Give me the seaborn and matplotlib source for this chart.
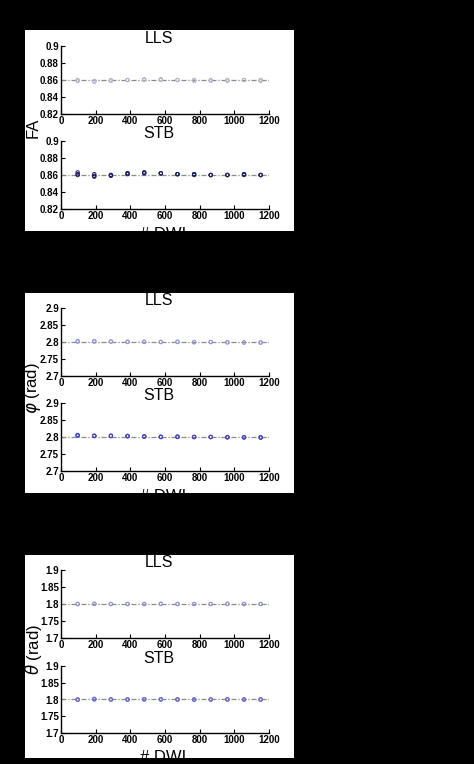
import numpy as np
import pandas as pd
import matplotlib
matplotlib.use("Agg")
import matplotlib.pyplot as plt
import seaborn as sns
from matplotlib.patches import Rectangle
from matplotlib.transforms import Bbox, TransformedBbox

# ---------------- data ----------------
n_dwi = [96, 192, 288, 384, 480, 576, 672, 768, 864, 960, 1056, 1152]

fa_true = 0.86
fa_lls = [[0.860, 0.859], [0.859, 0.858], [0.860, 0.859], [0.860, 0.860], [0.861, 0.860],
          [0.861, 0.860], [0.860, 0.860], [0.860, 0.859], [0.860, 0.859], [0.860, 0.859],
          [0.860, 0.860], [0.860, 0.859]]
fa_stb = [[0.863, 0.861, 0.860], [0.861, 0.859, 0.858], [0.860, 0.859, 0.860], [0.862, 0.861, 0.862],
          [0.863, 0.862, 0.863], [0.862, 0.862, 0.862], [0.861, 0.861, 0.861], [0.861, 0.860, 0.861],
          [0.860, 0.860, 0.860], [0.860, 0.860, 0.860], [0.861, 0.860, 0.861], [0.860, 0.860, 0.860]]

phi_true = 2.8
phi_lls = [[2.803, 2.801], [2.803, 2.801], [2.802, 2.801], [2.801, 2.800], [2.801, 2.800],
           [2.800, 2.800], [2.801, 2.800], [2.800, 2.799], [2.800, 2.800], [2.799, 2.799],
           [2.799, 2.798], [2.799, 2.798]]
phi_stb = [[2.806, 2.804, 2.805], [2.804, 2.803, 2.803], [2.804, 2.803, 2.803], [2.803, 2.802, 2.803],
           [2.802, 2.801, 2.802], [2.801, 2.800, 2.800], [2.801, 2.800, 2.801], [2.800, 2.800, 2.800],
           [2.800, 2.800, 2.800], [2.800, 2.799, 2.799], [2.799, 2.799, 2.799], [2.799, 2.798, 2.799]]

theta_true = 1.8
theta_lls = [[1.800, 1.800], [1.801, 1.800], [1.800, 1.800], [1.800, 1.800], [1.800, 1.800],
             [1.801, 1.800], [1.800, 1.800], [1.800, 1.800], [1.800, 1.800], [1.801, 1.800],
             [1.800, 1.800], [1.800, 1.800]]
theta_stb = [[1.800, 1.799, 1.800], [1.802, 1.801, 1.800], [1.800, 1.800, 1.800], [1.800, 1.800, 1.800],
             [1.801, 1.800, 1.801], [1.801, 1.800, 1.800], [1.800, 1.800, 1.800], [1.800, 1.799, 1.800],
             [1.800, 1.800, 1.800], [1.801, 1.800, 1.800], [1.800, 1.800, 1.800], [1.800, 1.800, 1.800]]

x_ticks = [0, 200, 400, 600, 800, 1000, 1200]
fa_ticks = [0.82, 0.84, 0.86, 0.88, 0.9]
fa_ticklabels = ["0.82", "0.84", "0.86", "0.88", "0.9"]
phi_ticks = [2.7, 2.75, 2.8, 2.85, 2.9]
phi_ticklabels = ["2.7", "2.75", "2.8", "2.85", "2.9"]
theta_ticks = [1.7, 1.75, 1.8, 1.85, 1.9]
theta_ticklabels = ["1.7", "1.75", "1.8", "1.85", "1.9"]

titles = ["LLS", "STB"]
ylabels = ["FA", r"$\varphi$ (rad)", r"$\theta$ (rad)"]
xlabel = "# DWI"

# ---------------- style ----------------
sns.set_style("ticks")
plt.rcParams["font.family"] = ["Liberation Sans", "DejaVu Sans"]
plt.rcParams["mathtext.fontset"] = "dejavusans"
plt.rcParams["text.color"] = "black"
plt.rcParams["axes.labelcolor"] = "black"

W, H = 474, 764
fig = plt.figure(figsize=(W / 100, H / 100), dpi=100, facecolor="black")


def long_df(vals):
    rows = []
    for x, reps in zip(n_dwi, vals):
        for v in reps:
            rows.append({"n": x, "v": v})
    return pd.DataFrame(rows)


def fx(px):
    return px / W


def fy(py):
    return 1 - py / H


panels = [
    dict(box=(30, 231), axes=[(46, 114), (141, 209)], lls=fa_lls, stb=fa_stb, truth=fa_true,
         ticks=fa_ticks, tl=fa_ticklabels, lim=(0.82, 0.9), ylab=ylabels[0], ylab_y=128,
         colors=("#b4b4cc", "#1c1c60")),
    dict(box=(293, 493), axes=[(308, 376), (403, 471)], lls=phi_lls, stb=phi_stb, truth=phi_true,
         ticks=phi_ticks, tl=phi_ticklabels, lim=(2.7, 2.9), ylab=ylabels[1], ylab_y=388,
         colors=("#9898d4", "#4646c4")),
    dict(box=(555, 758), axes=[(570, 638), (666, 733)], lls=theta_lls, stb=theta_stb, truth=theta_true,
         ticks=theta_ticks, tl=theta_ticklabels, lim=(1.7, 1.9), ylab=ylabels[2], ylab_y=650,
         colors=("#9494d4", "#7070cc")),
]

ax_left, ax_right = 61, 269
box_left, box_right = 25, 294

for p in panels:
    y0, y1 = p["box"]
    fig.add_artist(Rectangle((fx(box_left), fy(y1)), fx(box_right - box_left), (y1 - y0) / H,
                             transform=fig.transFigure, facecolor="white", edgecolor="none", zorder=-5))
    clip = TransformedBbox(Bbox([[fx(box_left), fy(y1)], [fx(box_right), fy(y0)]]), fig.transFigure)
    for k, ((t, b), vals, col) in enumerate(zip(p["axes"], [p["lls"], p["stb"]], p["colors"])):
        ax = fig.add_axes([fx(ax_left), fy(b), fx(ax_right - ax_left), (b - t) / H])
        ax.set_facecolor("white")
        ax.axhline(p["truth"], ls=(0, (4, 1.5, 1, 1.5)), color="#8a8a8a", lw=0.9, zorder=1)
        df = long_df(vals)
        sns.scatterplot(data=df, x="n", y="v", ax=ax, marker="o", s=6,
                        facecolors="none", edgecolor=col, linewidth=0.7, zorder=3, legend=False)
        ax.set_xlim(0, 1200)
        ax.set_ylim(*p["lim"])
        ax.set_xticks(x_ticks)
        ax.set_xticklabels([str(v) for v in x_ticks])
        ax.set_yticks(p["ticks"])
        ax.set_yticklabels(p["tl"])
        ax.tick_params(direction="in", length=3, width=0.8, labelsize=7, pad=1.5, colors="black")
        for lab in ax.get_xticklabels() + ax.get_yticklabels():
            lab.set_fontweight("bold")
        for s in ["top", "right"]:
            ax.spines[s].set_visible(False)
        for s in ["left", "bottom"]:
            ax.spines[s].set_linewidth(1.0)
            ax.spines[s].set_color("black")
        ax.set_ylabel("")
        ax.set_title(titles[k], fontsize=11.5, pad=2, x=0.47, color="black")
        if k == 1:
            ax.set_xlabel(xlabel, fontsize=12, color="black")
            ax.xaxis.set_label_coords(0.49, -0.26)
            ax.xaxis.label.set_clip_on(True)
            ax.xaxis.label.set_clip_box(clip)
        else:
            ax.set_xlabel("")
    fig.text(fx(33), fy(p["ylab_y"]), p["ylab"], rotation=90, ha="center", va="center",
             fontsize=12, color="black")

fig.savefig("out.png", dpi=100, facecolor="black")
